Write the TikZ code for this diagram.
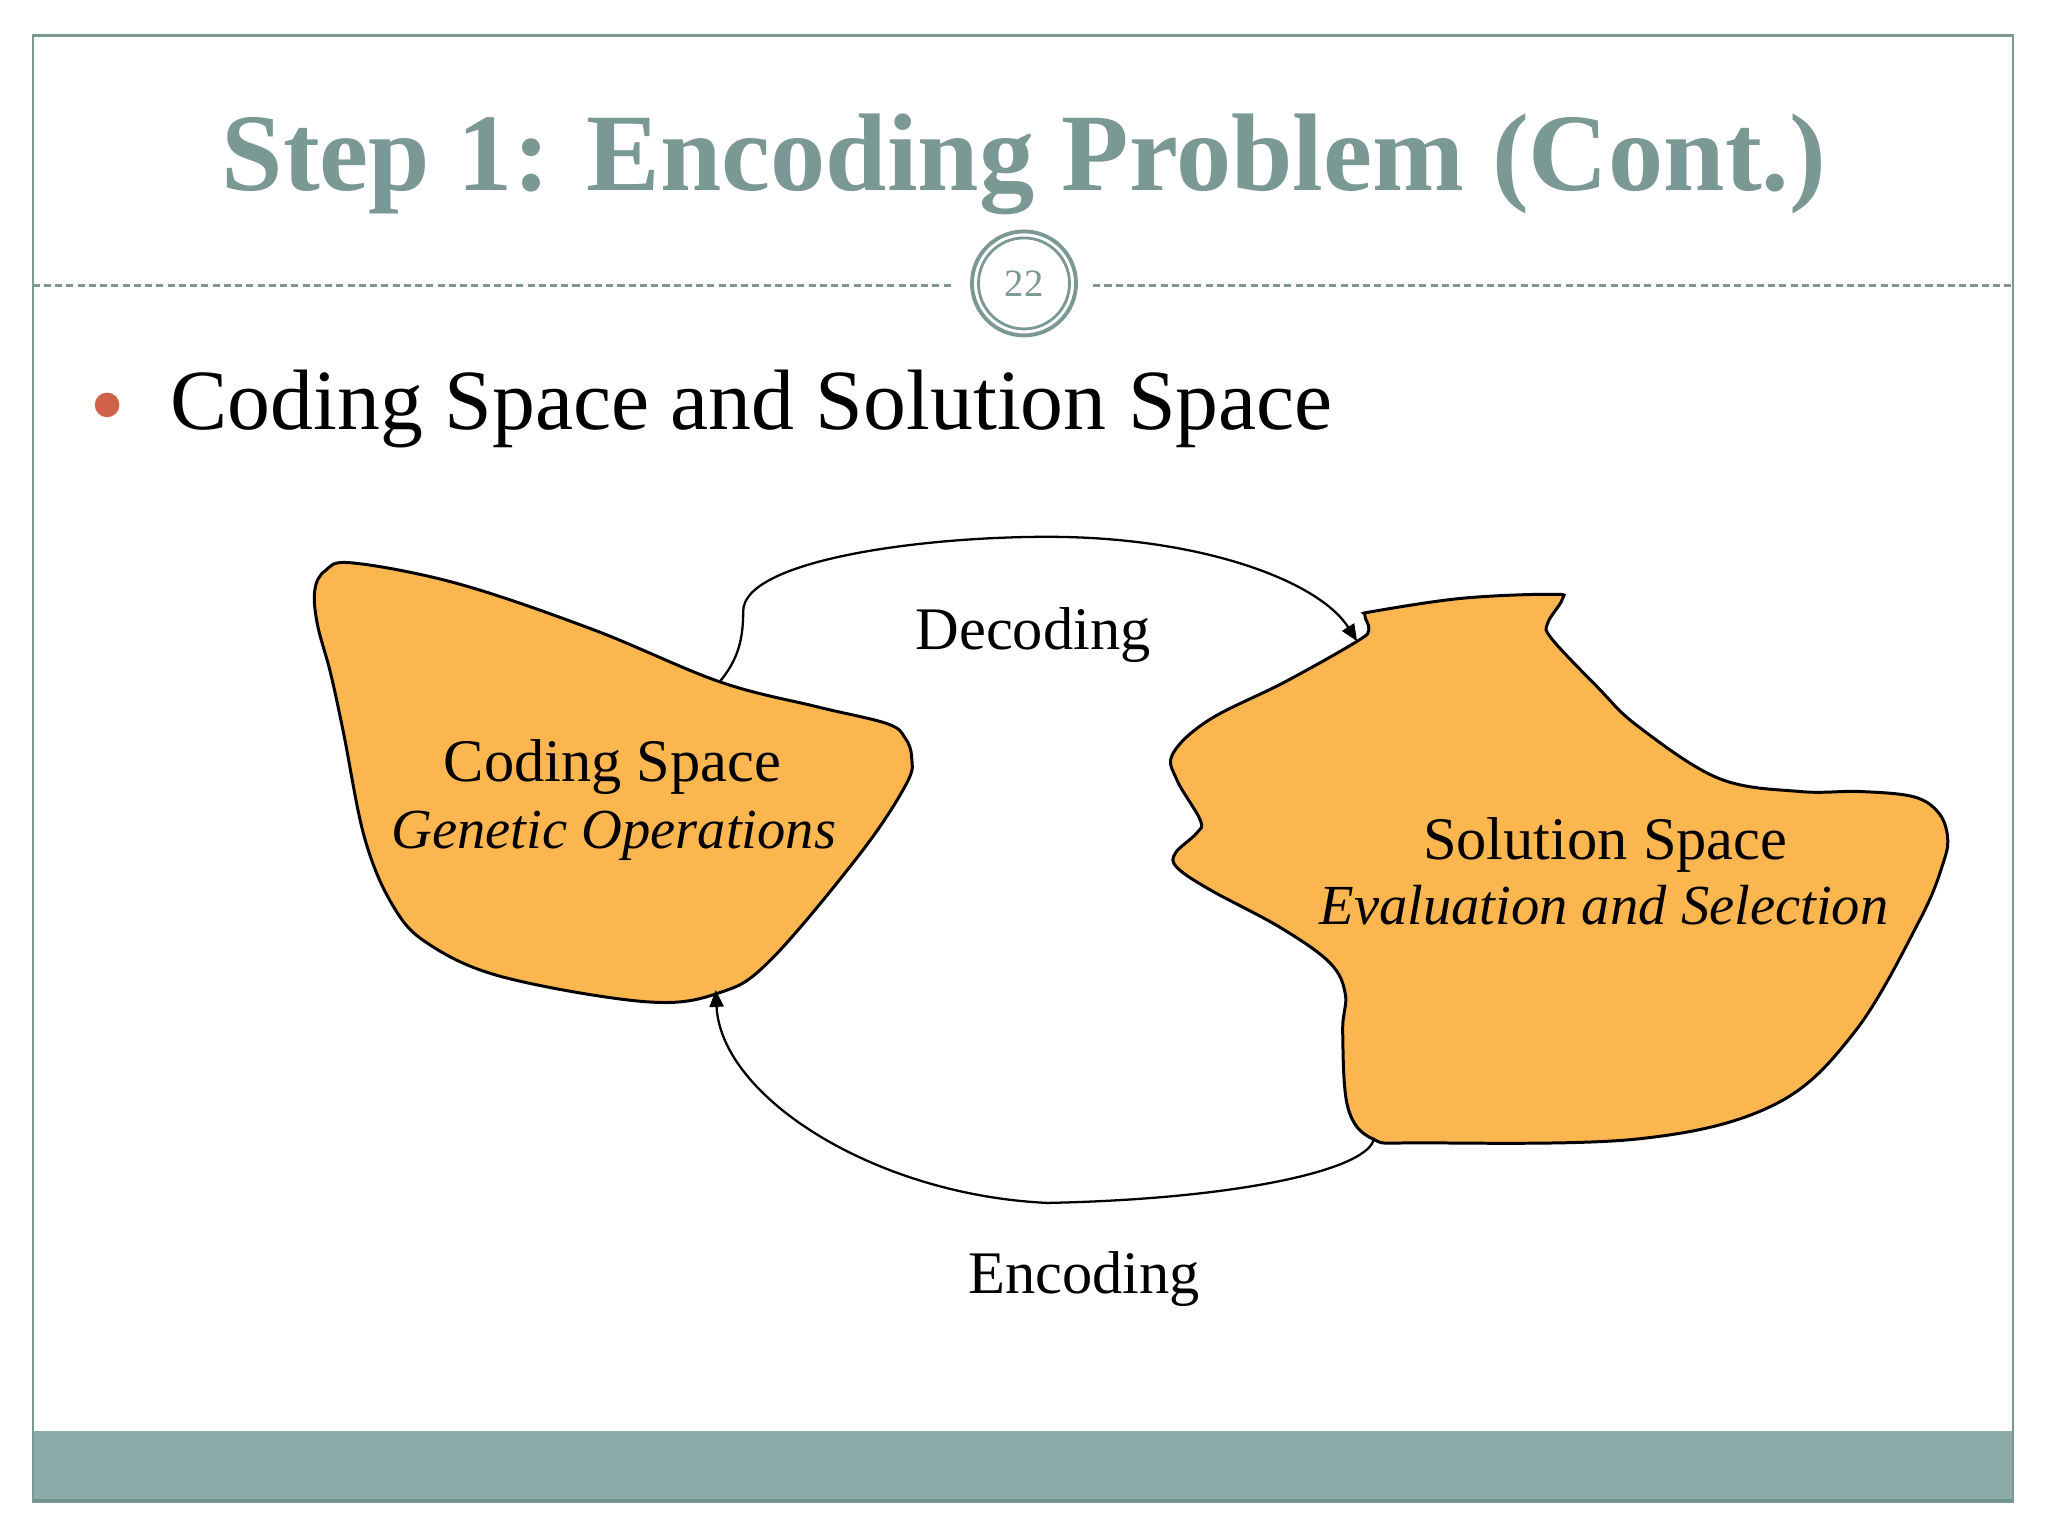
\documentclass[tikz,border=0pt]{standalone}
\usepackage{fontspec}
\setmainfont{Liberation Serif}
\usetikzlibrary{arrows.meta}
\definecolor{tealgray}{RGB}{122,152,148}
\definecolor{rulec}{RGB}{128,150,147}
\definecolor{footerc}{RGB}{141,171,168}
\definecolor{footerdark}{RGB}{108,146,142}
\definecolor{blobfill}{RGB}{252,182,80}
\definecolor{bulletc}{RGB}{208,98,74}
\begin{document}
\begin{tikzpicture}[x=0.013061cm,y=-0.013061cm,
  blob/.style={draw=black, line width=0.85pt, fill=blobfill},
  conn/.style={draw=black, line width=0.65pt, -{Triangle[length=4.8pt,width=4pt]}},
  lbl/.style={inner sep=0pt, anchor=base, font=\fontsize{17.2}{20}\selectfont},
  ilbl/.style={inner sep=0pt, anchor=base, font=\fontsize{16.1}{19}\selectfont\itshape},
  rule/.style={rulec, line width=0.75pt, dash pattern=on 2pt off 1.2pt},
]
\useasboundingbox (0,0) rectangle (1568,1176);
\fill[white] (0,0) rectangle (1568,1176);
% footer band and frame
\fill[footerc] (25,1095.5) rectangle (1541,1149);
\draw[footerdark, line width=0.8pt] (25,1148.5) -- (1541,1148.5);
\draw[tealgray, line width=0.6pt] (25,27) rectangle (1541,1150);
\draw[tealgray, line width=0.9pt] (25,27) -- (1541,27);
% title
\node[anchor=base, inner sep=0pt, text=tealgray, font=\fontsize{31.4}{36}\selectfont\bfseries] (title) at (784,146) {Step 1: Encoding Problem (Cont.)};
% page number
\node[circle, draw=tealgray, line width=1.1pt, minimum size=29.6pt, inner sep=0pt] (pgout) at (784,217) {};
\node[circle, draw=tealgray, line width=0.8pt, minimum size=25.9pt, inner sep=0pt, text=tealgray, font=\fontsize{11}{12}\selectfont] (pgin) at (784,217) {22};
\coordinate (rl1) at (25,218.5);
\coordinate (rl2) at (730,218.5);
\coordinate (rr1) at (837,218.5);
\coordinate (rr2) at (1541,218.5);
\draw[rule] (rl1) -- (rl2);
\draw[rule] (rr1) -- (rr2);
% bullet
\node[circle, fill=bulletc, minimum size=7pt, inner sep=0pt] (bul) at (82,310) {};
\node[anchor=base west, inner sep=0pt, font=\fontsize{24.4}{29}\selectfont] (btext) at (130,329) {Coding Space and Solution Space};
% blobs
\path[blob] plot[smooth cycle, tension=0.6] coordinates {
 (270,431) (351,447) (454,482) (551,522) (625,541) (679,554) (693,565) (698,580) (694,600)
 (659,653) (590,735) (551,760) (495,767) (385,748) (327,722) (300,692) (279,641)
 (263,561) (253,515) (243,478) (241,452) (249,437)};
\path[blob] plot[smooth cycle, tension=0.6] coordinates {
 (1052,468) (1120,458) (1189,455) (1196,459) (1185,477) (1188,489) (1223,526) (1254,556)
 (1316,596) (1378,606) (1424,606) (1465,610) (1484,622) (1491,640) (1488,660) (1470,704) (1420,790)
 (1358,846) (1254,872) (1088,875) (1051,872) (1032,848) (1028,790) (1030,761) (1018,737)
 (980,710) (926,681) (901,664) (900,653) (916,638) (919,628) (901,597) (898,577)
 (926,551) (984,522) (1039,491) (1048,482) (1045,471)};
% connectors
\coordinate (decS) at (551,522);
\coordinate (decE) at (1039,491);
\coordinate (encS) at (1052,871);
\coordinate (encE) at (548,758);
\draw[conn] (decS) .. controls (565,505) and (569,490) .. (569,468)
  .. controls (569,430) and (700,411) .. (802,411)
  .. controls (920,411) and (1010,445) .. (decE);
\draw[conn] (encS) .. controls (1050,895) and (950,918) .. (802,921)
  .. controls (670,915) and (552,840) .. (encE);
% labels
\node[lbl] (dec) at (791,497) {Decoding};
\node[lbl] (enc) at (830,990) {Encoding};
\node[lbl] (cs) at (469,598) {Coding Space};
\node[ilbl] (go) at (470,650) {Genetic Operations};
\node[lbl] (ss) at (1229,658) {Solution Space};
\node[ilbl] (es) at (1228,708) {Evaluation and Selection};
\end{tikzpicture}
\end{document}
